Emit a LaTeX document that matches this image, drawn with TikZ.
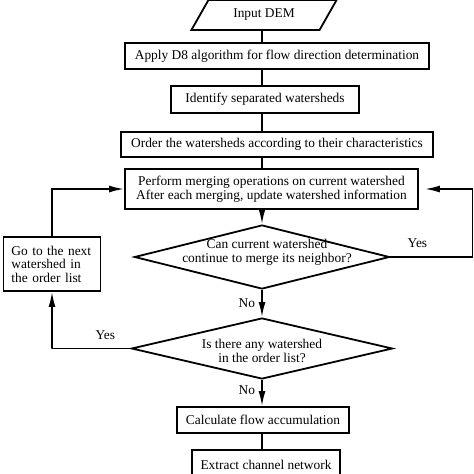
\documentclass[tikz,border=0pt]{standalone}
\usepackage{fontspec}
\setmainfont{Liberation Serif}
\usetikzlibrary{shapes.geometric,arrows.meta}
\begin{document}
\begin{tikzpicture}[x=1pt,y=-1pt,
  every node/.style={font=\fontsize{13.4}{13.5}\selectfont},
  box/.style={draw,line width=1.8pt,inner sep=0pt,align=center},
  dia/.style={draw,diamond,line width=1.8pt,inner sep=0pt},
  conn/.style={line width=1.8pt},
  arr/.style={line width=1.8pt,-{Latex[length=15pt,width=7pt]}},
  lab/.style={inner sep=0pt}]
\useasboundingbox (0,0) rectangle (474,474);
\coordinate (spine) at (262,0);
\node[draw,line width=1.8pt,trapezium,trapezium left angle=51,trapezium right angle=129,
  trapezium stretches=true,minimum width=146pt,minimum height=30pt,inner sep=0pt] (dem) at (264,15) {Input DEM};
\node[box,minimum width=304pt,minimum height=26pt] (b2) at (277,56) {Apply D8 algorithm for flow direction determination};
\node[box,minimum width=188pt,minimum height=27pt] (b3) at (265,99.5) {Identify separated watersheds};
\node[box,minimum width=312pt,minimum height=25pt] (b4) at (277,144.5) {Order the watersheds according to their characteristics};
\node[box,minimum width=293pt,minimum height=40pt] (b5) at (271.5,189) {Perform merging operations on current watershed\\After each merging, update watershed information};
\node[dia,minimum width=255pt,minimum height=64pt,
  label={[align=center,inner sep=0pt,xshift=5pt,yshift=4.5pt]center:Can current watershed\\continue to merge its neighbor?}] (d1) at (262,257) {};
\node[box,minimum height=54pt,text width=81pt,inner xsep=8pt,align=left] (go) at (52,264) {Go to the next\\watershed in\\the order list};
\node[dia,minimum width=261pt,minimum height=61pt,
  label={[align=center,inner sep=0pt,yshift=-2.5pt]center:Is there any watershed\\in the order list?}] (d2) at (262,348.5) {};
\node[box,minimum width=172pt,minimum height=26pt] (calc) at (263,420) {Calculate flow accumulation};
\node[box,minimum width=148pt,minimum height=30pt] (ext) at (266,465) {Extract channel network};
\draw[conn] (dem.south -| spine) -- (b2.north -| spine);
\draw[conn] (b2.south -| spine) -- (b3.north -| spine);
\draw[conn] (b3.south -| spine) -- (b4.north -| spine);
\draw[conn] (b4.south -| spine) -- (b5.north -| spine);
\draw[arr] (b5.south -| spine) -- (d1.north);
\draw[arr] (d1.south) -- node[lab,left=6pt]{No} (d2.north);
\draw[arr] (d2.south) -- node[lab,left=6pt,yshift=3pt]{No} (calc.north -| d2.south);
\draw[conn] (calc.south -| spine) -- (ext.north -| spine);
\draw[arr,shorten >=6pt] (d1.east) -- node[lab,pos=0.33,above=8pt]{Yes} ++(82,0) |- (b5.east);
\draw[arr] (d2.west) -- node[lab,pos=0.32,above=8pt]{Yes} ++(-79,0) -| (go.south);
\draw[arr] (go.north) |- (b5.west);
\end{tikzpicture}
\end{document}
